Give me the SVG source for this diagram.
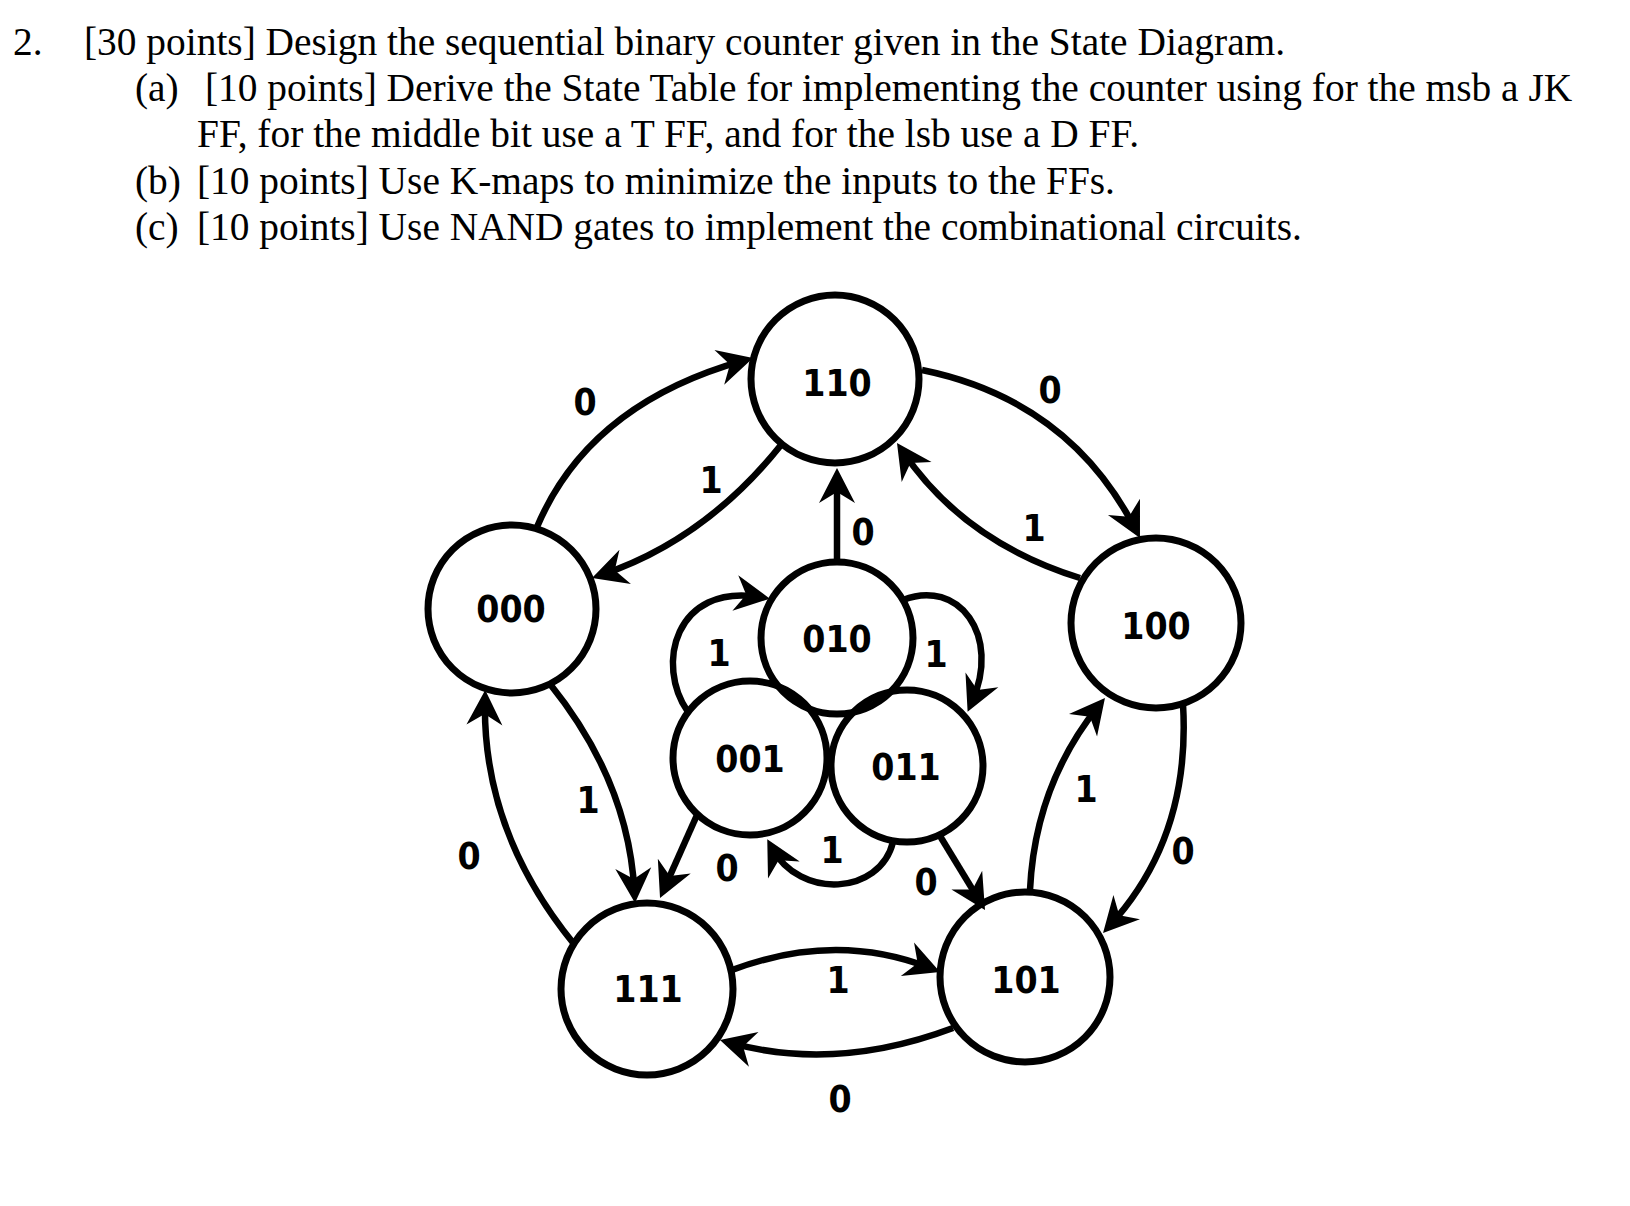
<svg xmlns="http://www.w3.org/2000/svg" width="1630" height="1206" viewBox="0 0 1630 1206">
<style>
.hdr{font-family:"Liberation Serif","Times New Roman",serif;font-size:39.4px;fill:#000}
.node circle{fill:none;stroke:#000;stroke-width:7}
.lbl{font-family:"DejaVu Sans Condensed","DejaVu Sans",sans-serif;font-stretch:condensed;font-weight:bold;font-size:37px;fill:#000;text-anchor:middle}
.edge{fill:none;stroke:#000;stroke-width:6.5;marker-end:url(#arr)}
</style>
<defs>
<marker id="arr" markerUnits="userSpaceOnUse" orient="auto" refX="0" refY="0" markerWidth="1" markerHeight="1" overflow="visible">
<path d="M10,0 L-25,-18 L-14,0 L-25,18 Z" fill="#000"/>
</marker>
</defs>
<rect width="1630" height="1206" fill="#fff"/>
<g id="header">
<text class="hdr" x="13" y="55">2.</text>
<text class="hdr" x="84" y="55">[30 points] Design the sequential binary counter given in the State Diagram.</text>
<text class="hdr" x="135" y="101">(a)</text>
<text class="hdr" x="205" y="101">[10 points] Derive the State Table for implementing the counter using for the msb a JK</text>
<text class="hdr" x="197" y="147">FF, for the middle bit use a T FF, and for the lsb use a D FF.</text>
<text class="hdr" x="135" y="194">(b)</text>
<text class="hdr" x="197" y="194">[10 points] Use K-maps to minimize the inputs to the FFs.</text>
<text class="hdr" x="135" y="240">(c)</text>
<text class="hdr" x="197" y="240">[10 points] Use NAND gates to implement the combinational circuits.</text>
</g>
<g id="connectors">
<path class="edge" d="M537,527 Q589,404 743.4,360.7"/>
<path class="edge" d="M781,445 Q705,540 601.5,574.8"/>
<path class="edge" d="M922,370 Q1069,400 1135.4,529.1"/>
<path class="edge" d="M1080,578 Q964,542 902.6,451.3"/>
<path class="edge" d="M837,565 L837,478"/>
<path class="edge" d="M688,712 C655,665 675,583 760,597"/>
<path class="edge" d="M903,600 C958,578 1002,635 971.7,702.7"/>
<path class="edge" d="M893,842 C880,895 800,900 772,848"/>
<path class="edge" d="M697,815 L664.1,888.9"/>
<path class="edge" d="M940,836 L979.8,901.4"/>
<path class="edge" d="M550,684 Q629,782 634.5,893"/>
<path class="edge" d="M574,944 Q482,831 485,700"/>
<path class="edge" d="M732,970 Q836,931 930.7,968.3"/>
<path class="edge" d="M953,1028 Q836,1072 729.6,1042.7"/>
<path class="edge" d="M1030,890 Q1035,785 1098.7,705.8"/>
<path class="edge" d="M1183,704 Q1191,837 1109.8,925.6"/>
</g>
<g id="edge-labels">
<text class="lbl" x="585" y="415">0</text>
<text class="lbl" x="711" y="493">1</text>
<text class="lbl" x="719" y="666">1</text>
<text class="lbl" x="863" y="545">0</text>
<text class="lbl" x="1050" y="403">0</text>
<text class="lbl" x="1034" y="541">1</text>
<text class="lbl" x="936" y="667">1</text>
<text class="lbl" x="588" y="813">1</text>
<text class="lbl" x="469" y="869">0</text>
<text class="lbl" x="727" y="881">0</text>
<text class="lbl" x="832" y="863">1</text>
<text class="lbl" x="926" y="895">0</text>
<text class="lbl" x="1086" y="802">1</text>
<text class="lbl" x="1183" y="864">0</text>
<text class="lbl" x="838" y="993">1</text>
<text class="lbl" x="840" y="1112">0</text>
</g>
<g id="node-110" class="node"><circle cx="835" cy="379" r="84"/><text class="lbl" x="837" y="396">110</text></g>
<g id="node-000" class="node"><circle cx="512" cy="609" r="84"/><text class="lbl" x="511" y="622">000</text></g>
<g id="node-100" class="node"><circle cx="1156" cy="623" r="85"/><text class="lbl" x="1156" y="639">100</text></g>
<g id="node-010" class="node"><circle cx="837" cy="638" r="76"/><text class="lbl" x="837" y="652">010</text></g>
<g id="node-001" class="node"><circle cx="750" cy="758" r="77"/><text class="lbl" x="750" y="772">001</text></g>
<g id="node-011" class="node"><circle cx="907" cy="766" r="76"/><text class="lbl" x="906" y="780">011</text></g>
<g id="node-111" class="node"><circle cx="647" cy="989" r="86"/><text class="lbl" x="648" y="1002">111</text></g>
<g id="node-101" class="node"><circle cx="1025" cy="977" r="85"/><text class="lbl" x="1026" y="993">101</text></g>
</svg>
